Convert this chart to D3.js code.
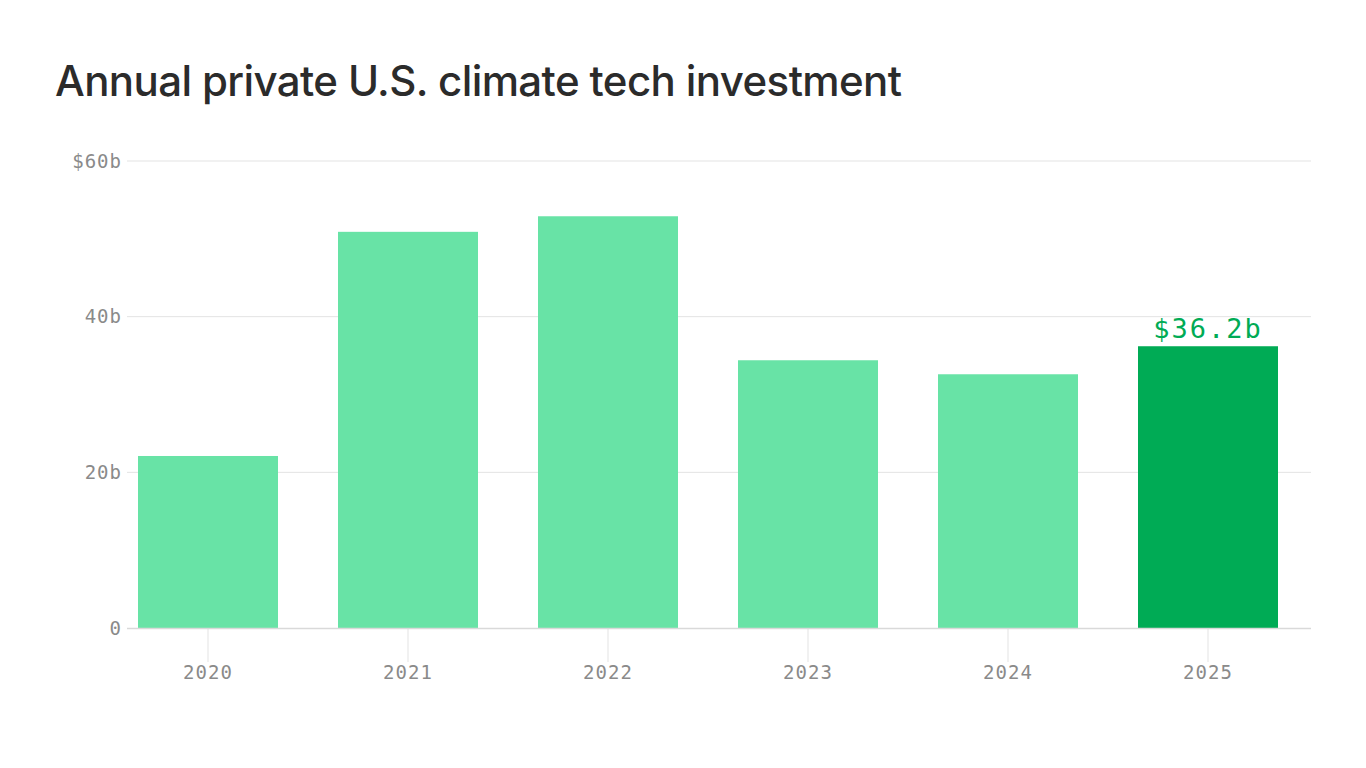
<!DOCTYPE html>
<html>
<head>
<meta charset="utf-8">
<script src="https://cdn.jsdelivr.net/npm/d3@7"></script>
<style>
  body { margin: 0; background: #fff; }
  svg { display: block; }
</style>
</head>
<body>
<svg id="chart"></svg>
<script>
// Data
var years = ['2020', '2021', '2022', '2023', '2024', '2025'];
var investment = [22.1, 50.9, 52.9, 34.4, 32.6, 36.2];
var yTicks = [0, 20, 40, 60];
var highlightYear = '2025';

var svgWidth = 1366, svgHeight = 768;

var svg = d3.select('#chart')
    .attr('width', svgWidth)
    .attr('height', svgHeight);

// Title
svg.append('text')
    .attr('x', 55)
    .attr('y', 96)
    .style('font-family', 'Inter, "Noto Sans", sans-serif')
    .style('font-size', '42px')
    .style('font-weight', 500)
    .style('fill', '#2b2b2b')
    .style('letter-spacing', '-0.6px')
    .text('Annual private U.S. climate tech investment');

// Scales
var x = d3.scaleBand()
    .domain(years)
    .range([108, 1308])
    .paddingInner(0.3)
    .paddingOuter(0.15);

var y = d3.scaleLinear()
    .domain([0, 60])
    .range([628, 161]);

var gridLeft = 127, gridRight = 1311;
var monoFont = '"DejaVu Sans Mono", monospace';

// Gridlines
svg.append('g')
    .selectAll('line')
    .data(yTicks.filter(function(d) { return d > 0; }))
  .enter().append('line')
    .attr('x1', gridLeft)
    .attr('x2', gridRight)
    .attr('y1', function(d) { return y(d); })
    .attr('y2', function(d) { return y(d); })
    .style('stroke', '#e3e3e3')
    .style('stroke-width', 1);

// Y tick labels
svg.append('g')
    .selectAll('text')
    .data(yTicks)
  .enter().append('text')
    .attr('x', 122)
    .attr('y', function(d) { return y(d); })
    .attr('dy', '0.35em')
    .style('text-anchor', 'end')
    .style('font-family', monoFont)
    .style('font-size', '19px')
    .style('letter-spacing', '1px')
    .style('fill', '#8a8a8a')
    .text(function(d) { return d === 60 ? '$60b' : (d === 0 ? '0' : d + 'b'); });

// X axis ticks
svg.append('g')
    .selectAll('line')
    .data(years)
  .enter().append('line')
    .attr('x1', function(d) { return x(d) + x.bandwidth() / 2; })
    .attr('x2', function(d) { return x(d) + x.bandwidth() / 2; })
    .attr('y1', y(0))
    .attr('y2', y(0) + 34)
    .style('stroke', '#e3e3e3')
    .style('stroke-width', 1);

svg.append('g')
    .selectAll('text')
    .data(years)
  .enter().append('text')
    .attr('x', function(d) { return x(d) + x.bandwidth() / 2; })
    .attr('y', 679)
    .style('text-anchor', 'middle')
    .style('font-family', monoFont)
    .style('font-size', '19px')
    .style('letter-spacing', '1px')
    .style('fill', '#8a8a8a')
    .text(function(d) { return d; });

// Bars
svg.append('g')
    .selectAll('rect')
    .data(years)
  .enter().append('rect')
    .attr('x', function(d) { return x(d); })
    .attr('width', x.bandwidth())
    .attr('y', function(d, i) { return y(investment[i]); })
    .attr('height', function(d, i) { return y(0) - y(investment[i]); })
    .style('fill', function(d) { return d === highlightYear ? '#00ab55' : '#68e3a6'; });

// Baseline
svg.append('line')
    .attr('x1', gridLeft)
    .attr('x2', gridRight)
    .attr('y1', y(0) + 0.5)
    .attr('y2', y(0) + 0.5)
    .style('stroke', '#d9d9d9')
    .style('stroke-width', 1.5);

// Highlight label
var hi = years.indexOf(highlightYear);
svg.append('text')
    .attr('x', x(highlightYear) + x.bandwidth() / 2)
    .attr('y', y(investment[hi]) - 8)
    .style('text-anchor', 'middle')
    .style('font-family', monoFont)
    .style('font-size', '27px')
    .style('letter-spacing', '2px')
    .style('fill', '#00ab55')
    .text('$' + investment[hi] + 'b');
</script>
</body>
</html>
